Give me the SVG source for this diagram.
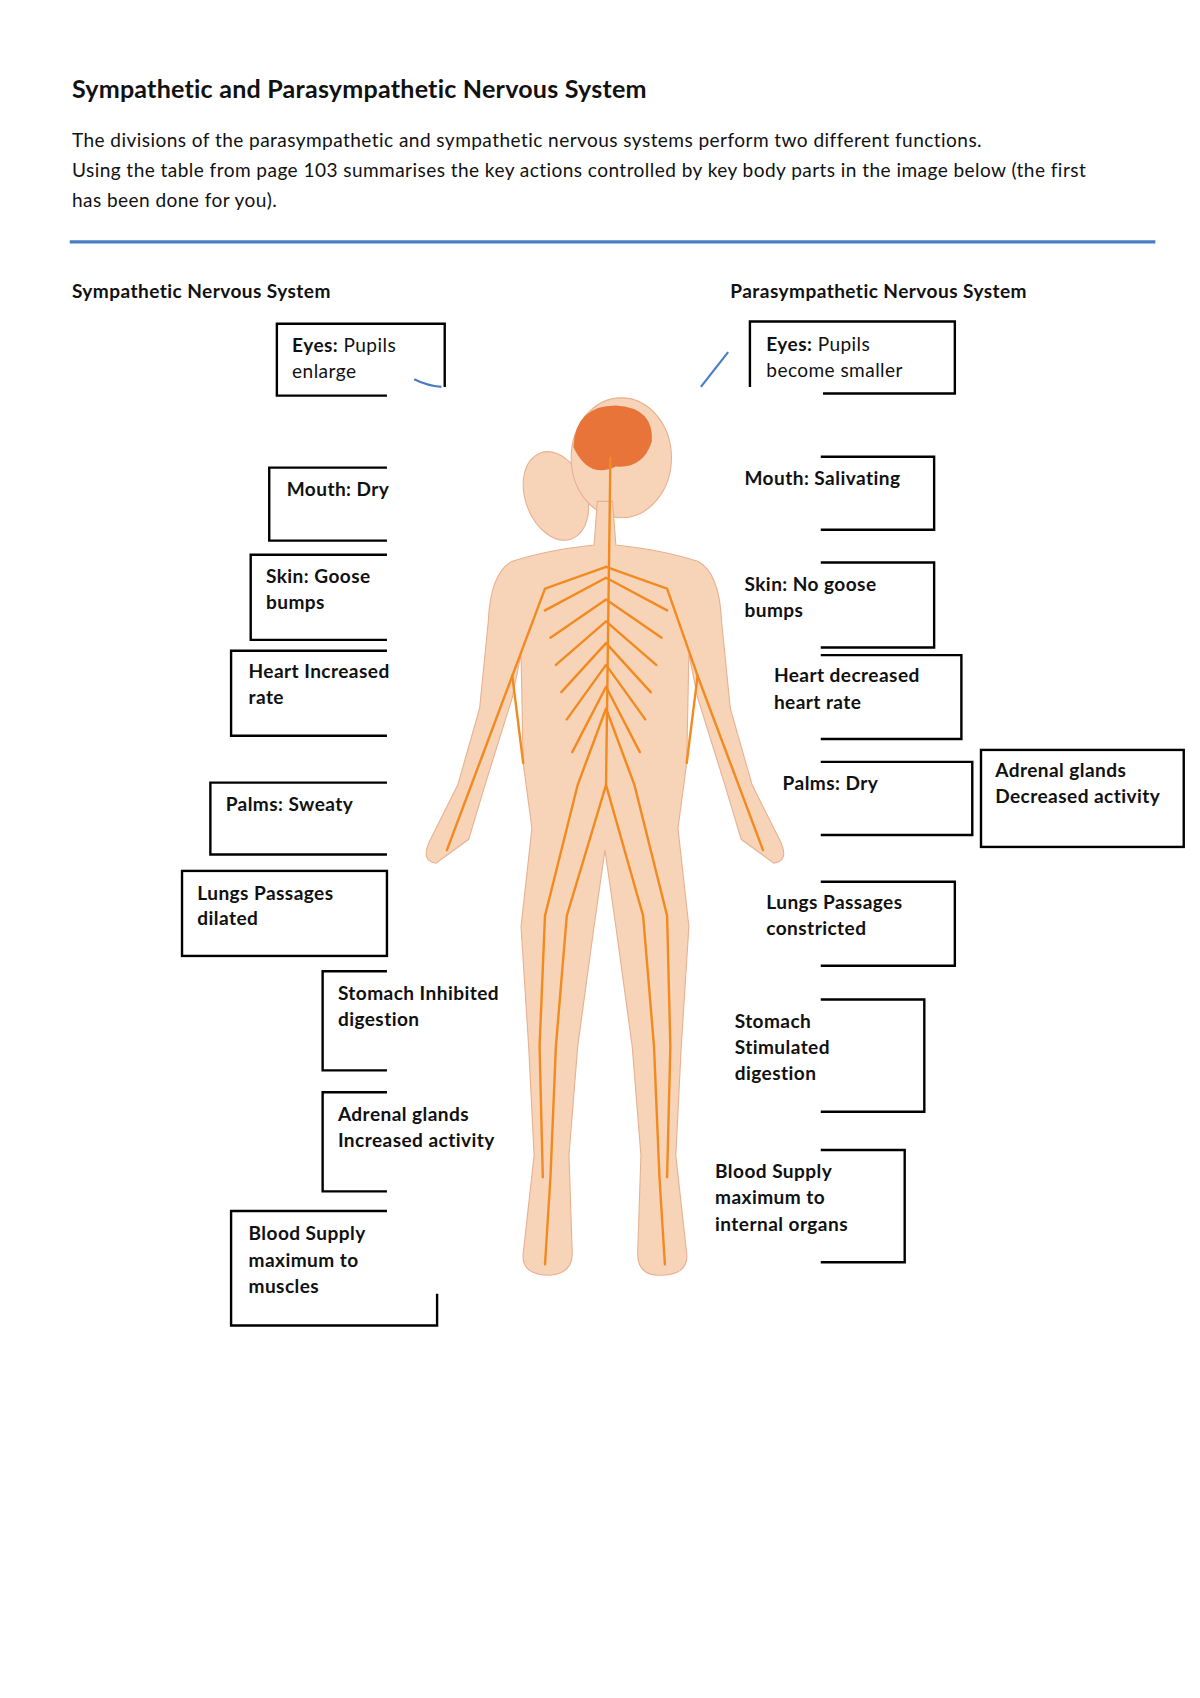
<svg xmlns="http://www.w3.org/2000/svg" width="1200" height="1698" viewBox="0 0 1200 1698">
<style>
.t{font-family:Lato,"Open Sans",sans-serif;fill:#111;letter-spacing:0.4px}
.h{font-size:23px;font-weight:bold;letter-spacing:0.2px}
.p{font-size:17.5px}
.b{font-size:17.5px;font-weight:bold}
.r{font-size:17.5px;font-weight:normal}
.box{fill:none;stroke:#000;stroke-width:2.2}
.skin{fill:#f7d3b8;stroke:#e8b090;stroke-width:1}
.nv{fill:none;stroke:#f28a20;stroke-width:2.2;stroke-linecap:round}
</style>
<rect width="1200" height="1698" fill="#fff"/>
<g transform="scale(1.09)">
<g id="header">
<text class="t h" x="66" y="90">Sympathetic and Parasympathetic Nervous System</text>
<text class="t p" x="66" y="135">The divisions of the parasympathetic and sympathetic nervous systems perform two different functions.</text>
<text class="t p" x="66" y="162">Using the table from page 103 summarises the key actions controlled by key body parts in the image below (the first</text>
<text class="t p" x="66" y="190">has been done for you).</text>
<path d="M64 222H1060" stroke="#4a7ec4" stroke-width="3"/>
<text class="t b" x="66" y="273">Sympathetic Nervous System</text>
<text class="t b" x="670" y="273">Parasympathetic Nervous System</text>
</g>
<g id="body">
<ellipse cx="510" cy="455" rx="28" ry="42" class="skin" transform="rotate(-20 510 455)"/>
<ellipse cx="570" cy="420" rx="46" ry="55" class="skin"/>
<path class="skin" d="M548 460 L545 500 Q500 505 470 515 Q450 525 448 570 L440 650 L420 720 L395 770 Q385 790 400 792 L430 770 L445 720 L470 640 L478 600 L480 700 L488 760 L478 850 L485 960 L490 1060 L480 1150 Q478 1170 505 1170 Q525 1168 525 1150 L522 1060 L530 960 L545 850 L555 780 L565 850 L580 960 L588 1060 L585 1150 Q585 1170 605 1170 Q632 1170 630 1150 L620 1060 L625 960 L632 850 L622 760 L630 700 L632 600 L640 640 L665 720 L680 770 L710 792 Q725 790 715 770 L690 720 L670 650 L662 570 Q660 525 640 515 Q610 505 565 500 L562 460 Z"/>
<path d="M526 410 Q528 372 565 372 Q600 374 598 405 Q590 430 565 428 Q540 440 526 410 Z" fill="#e8743a"/>
<path class="nv" d="M560 420 L556 720 M556 720 L520 840 L510 960 L505 1080 L500 1160 M556 720 L590 840 L600 960 L605 1080 L610 1160 M556 520 L500 540 L470 620 L440 700 L410 780 M556 520 L612 540 L640 620 L670 700 L700 780"/>
<path class="nv" stroke-width="1.4" d="M556 530 L500 560 M556 550 L505 585 M556 570 L510 610 M556 590 L515 635 M556 610 L520 660 M556 630 L525 690 M556 650 L530 720 M556 530 L612 560 M556 550 L607 585 M556 570 L602 610 M556 590 L597 635 M556 610 L592 660 M556 630 L587 690 M556 650 L582 720 M530 720 L500 840 L495 960 L498 1080 M582 720 L612 840 L615 960 L612 1080 M470 620 L480 700 M640 620 L630 700"/>
</g>
<g id="left-boxes">
<g id="l-eyes"><path class="box" d="M355 363H254V297H408V355"/><path d="M380 348Q392 354 405 355" stroke="#4a7ec4" stroke-width="2" fill="none"/><text class="t r" x="268" y="323"><tspan font-weight="bold">Eyes:</tspan> Pupils</text><text class="t r" x="268" y="347">enlarge</text></g>
<g id="l-mouth"><path class="box" d="M355 429H247V496H355"/><text class="t b" x="263" y="455">Mouth: Dry</text></g>
<g id="l-skin"><path class="box" d="M355 509H230V587H355"/><text class="t b" x="244" y="535">Skin: Goose</text><text class="t b" x="244" y="559">bumps</text></g>
<g id="l-heart"><path class="box" d="M355 597H212V675H355"/><text class="t b" x="228" y="622">Heart Increased</text><text class="t b" x="228" y="646">rate</text></g>
<g id="l-palms"><path class="box" d="M355 718H193V784H355"/><text class="t b" x="207" y="744">Palms: Sweaty</text></g>
<g id="l-lungs"><rect class="box" x="167" y="799" width="188" height="78"/><text class="t b" x="181" y="826">Lungs Passages</text><text class="t b" x="181" y="849">dilated</text></g>
<g id="l-stomach"><path class="box" d="M355 891H296V982H355"/><text class="t b" x="310" y="917">Stomach Inhibited</text><text class="t b" x="310" y="941">digestion</text></g>
<g id="l-adrenal"><path class="box" d="M355 1002H296V1093H355"/><text class="t b" x="310" y="1028">Adrenal glands</text><text class="t b" x="310" y="1052">Increased activity</text></g>
<g id="l-blood"><path class="box" d="M355 1111H212V1216H401V1187"/><text class="t b" x="228" y="1138">Blood Supply</text><text class="t b" x="228" y="1162">maximum to</text><text class="t b" x="228" y="1186">muscles</text></g>
</g>
<g id="right-boxes">
<g id="r-eyes"><path class="box" d="M688 355V295H876V361H755"/><path d="M643 355L668 323" stroke="#4a7ec4" stroke-width="2"/><text class="t r" x="703" y="322"><tspan font-weight="bold">Eyes:</tspan> Pupils</text><text class="t r" x="703" y="346">become smaller</text></g>
<g id="r-mouth"><path class="box" d="M753 419H857V486H753"/><text class="t b" x="683" y="445">Mouth: Salivating</text></g>
<g id="r-skin"><path class="box" d="M753 516H857V594H753"/><text class="t b" x="683" y="542">Skin:  No goose</text><text class="t b" x="683" y="566">bumps</text></g>
<g id="r-heart"><path class="box" d="M753 601H882V678H753"/><text class="t b" x="710" y="626">Heart decreased</text><text class="t b" x="710" y="650">heart rate</text></g>
<g id="r-palms"><path class="box" d="M753 699H892V766H753"/><text class="t b" x="718" y="725">Palms: Dry</text></g>
<g id="r-adrenal"><rect class="box" x="900" y="688" width="186" height="89"/><text class="t b" x="913" y="713">Adrenal glands</text><text class="t b" x="913" y="737">Decreased activity</text></g>
<g id="r-lungs"><path class="box" d="M753 809H876V886H753"/><text class="t b" x="703" y="834">Lungs  Passages</text><text class="t b" x="703" y="858">constricted</text></g>
<g id="r-stomach"><path class="box" d="M753 917H848V1020H753"/><text class="t b" x="674" y="943">Stomach</text><text class="t b" x="674" y="967">Stimulated</text><text class="t b" x="674" y="991">digestion</text></g>
<g id="r-blood"><path class="box" d="M753 1055H830V1158H753"/><text class="t b" x="656" y="1081">Blood Supply</text><text class="t b" x="656" y="1105">maximum to</text><text class="t b" x="656" y="1129">internal organs</text></g>
</g>
</g>
</svg>
